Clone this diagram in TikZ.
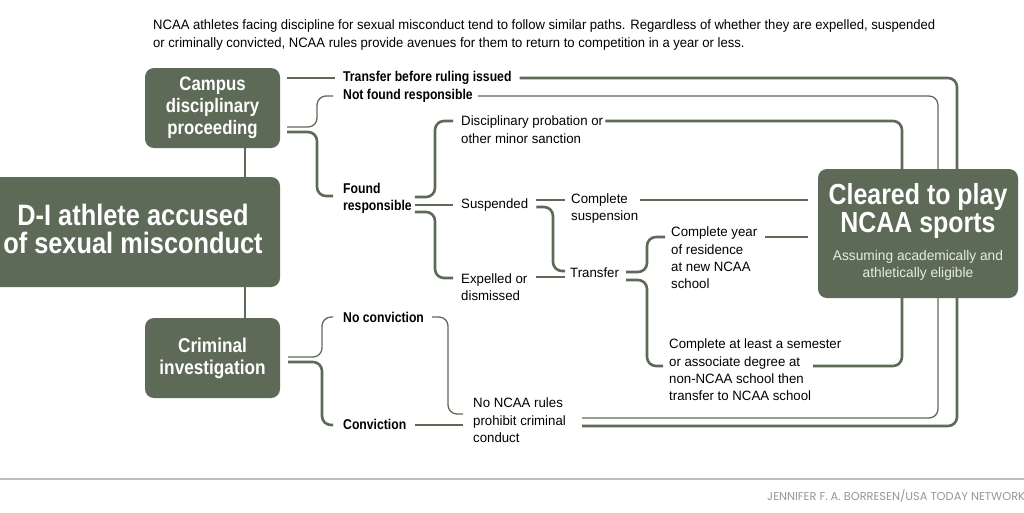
\documentclass[tikz,border=0pt]{standalone}
\usepackage{fontspec}
\setmainfont{Liberation Sans}[FakeStretch=0.98]
\newfontfamily\condfont{Liberation Sans}[FakeStretch=0.86]
\newfontfamily\introfont{Liberation Sans}[FakeStretch=0.96]
\newfontfamily\creditfont{Poppins}
\usetikzlibrary{calc,positioning}
\definecolor{sage}{RGB}{92,106,87}
\definecolor{rulegray}{RGB}{190,190,190}
\definecolor{creditgray}{RGB}{150,150,150}
\definecolor{paleleaf}{RGB}{232,236,229}
\tikzset{
  box/.style={fill=sage, rounded corners=9pt, inner sep=0pt},
  head/.style={text=white, align=center, inner sep=0pt, font=\condfont\bfseries},
  lbl/.style={anchor=west, inner sep=0pt, align=left, font=\fontsize{13.5}{17.4}\selectfont},
  blbl/.style={anchor=west, inner sep=0pt, align=left, font=\condfont\bfseries\fontsize{14.2}{17}\selectfont},
  thk/.style={draw=sage, line width=2.6pt, rounded corners=9pt},
  thn/.style={draw=sage, line width=1.3pt, rounded corners=9pt},
  stem/.style={draw=sage, line width=1.4pt},
}

\begin{document}
\begin{tikzpicture}[x=1pt,y=-1pt]
  \useasboundingbox (0,0) rectangle (1024,512);
  % intro
  \node[anchor=west, inner sep=0pt, align=left, font=\introfont\fontsize{13.6}{18.5}\selectfont] (intro) at (153,35)
    {NCAA athletes facing discipline for sexual misconduct tend to follow similar paths. Regardless of whether they are expelled, suspended\\
     or criminally convicted, NCAA rules provide avenues for them to return to competition in a year or less.};

  % boxes
  \node[box, minimum width=135pt, minimum height=80pt] (campus) at (212.5,108) {};
  \node[head, font=\condfont\bfseries\fontsize{19.5}{22}\selectfont] at (campus.center) {Campus\\disciplinary\\proceeding};
  \node[box, minimum width=300pt, minimum height=110pt] (accused) at (130,232) {};
  \node[head, font=\condfont\bfseries\fontsize{29.5}{28}\selectfont] at (133,229) {D-I athlete accused\\of sexual misconduct};
  \node[box, minimum width=135pt, minimum height=80pt] (crim) at (212.5,358) {};
  \node[head, font=\condfont\bfseries\fontsize{20}{22}\selectfont] at (crim.center) {Criminal\\investigation};
  \node[box, minimum width=200pt, minimum height=129pt] (clear) at (918,233.5) {};
  \node[head, font=\condfont\bfseries\fontsize{29}{26}\selectfont] (cleartitle) at (918,211) {Cleared to play\\NCAA sports};
  \node[head, below=12pt of cleartitle, text=paleleaf, font=\fontsize{14}{16.5}\selectfont] (clearnote) {Assuming academically and\\athletically eligible};

  \draw[stem] (campus.south -| 245,0) -- (accused.north -| 245,0);
  \draw[stem] (accused.south -| 245,0) -- (crim.north -| 245,0);

  % labels
  \node[blbl] (tbr) at (343,78) {Transfer before ruling issued};
  \node[blbl] (nfr) at (343,96) {Not found responsible};
  \node[blbl] (fr) at (343,198.5) {Found\\responsible};
  \node[lbl] (dp) at (461,129.5) {Disciplinary probation or\\other minor sanction};
  \node[lbl] (susp) at (461,205) {Suspended};
  \node[lbl] (exp) at (461,287) {Expelled or\\dismissed};
  \node[lbl] (csus) at (571,208.5) {Complete\\suspension};
  \node[lbl] (trf) at (570,273) {Transfer};
  \node[lbl] (cyr) at (671,258) {Complete year\\of residence\\at new NCAA\\school};
  \node[lbl] (cls) at (669,370) {Complete at least a semester\\or associate degree at\\non-NCAA school then\\transfer to NCAA school};
  \node[blbl] (nconv) at (343,317) {No conviction};
  \node[blbl] (conv) at (343,424) {Conviction};
  \node[lbl] (nrule) at (473,420.5) {No NCAA rules\\prohibit criminal\\conduct};

  \coordinate (clsend) at (813,366);
  \coordinate (nruleend) at (582,0);

  % campus branch
  \draw[thk] ([xshift=7pt]campus.east |- tbr.west) -- ([xshift=-8pt]tbr.west);
  \draw[thk] ([xshift=8pt]tbr.east) -- (957,78) -- ([yshift=-7pt]clear.north -| 957,0);
  \draw[thn] ([xshift=7pt]campus.east |- 0,127) -- (317,127) -- (317,96) -- ([xshift=-10pt]nfr.west);
  \draw[thn] ([xshift=5pt]nfr.east) -- (938,96) -- ([yshift=-7pt]clear.north -| 938,0);
  \draw[thk] ([xshift=7pt]campus.east |- 0,132) -- (317,132) -- (317,196) -- ([xshift=-10pt]fr.west |- 0,196);
  \draw[thk] ([xshift=3pt]fr.east |- 0,197) -- (435,197) -- (435,121) -- ([xshift=-8pt]dp.west |- 0,121);
  \draw[thk] ([xshift=3pt]fr.east |- 0,205) -- ([xshift=-8pt]susp.west);
  \draw[thk] ([xshift=3pt]fr.east |- 0,212) -- (435,212) -- (435,278) -- ([xshift=-8pt]exp.west |- 0,278);
  \draw[thk] ([xshift=2pt]dp.east |- 0,121) -- (902,121) -- ([yshift=-7pt]clear.north -| 902,0);
  \draw[thk] ([xshift=8pt]susp.east |- 0,200) -- ([xshift=-6pt]csus.west |- 0,200);
  \draw[thk] ([xshift=8pt]susp.east |- 0,207) -- (553,207) -- (553,271) -- ([xshift=-5pt]trf.west |- 0,271);
  \draw[thk] ([xshift=8pt]exp.east |- 0,277) -- ([xshift=-5pt]trf.west |- 0,277);
  \draw[thk] ([xshift=2pt]csus.east |- 0,200) -- ([xshift=-10pt]clear.west |- 0,200);
  \draw[thk] ([xshift=7pt]trf.east |- 0,272) -- (647,272) -- (647,237) -- ([xshift=-6pt]cyr.west |- 0,237);
  \draw[thk] ([xshift=7pt]trf.east |- 0,280) -- (647,280) -- (647,366) -- ([xshift=-6pt]cls.west |- 0,366);
  \draw[thk] ([xshift=8pt]cyr.east |- 0,237) -- ([xshift=-10pt]clear.west |- 0,237);
  \draw[thk] (clsend) -- (902,366) -- ([yshift=7pt]clear.south -| 902,0);

  % criminal branch
  \draw[thn] ([xshift=8pt]crim.east |- 0,357) -- (322,357) -- (322,317) -- ([xshift=-10pt]nconv.west);
  \draw[thk] ([xshift=8pt]crim.east |- 0,362) -- (322,362) -- (322,425) -- ([xshift=-10pt]conv.west |- 0,425);
  \draw[thn] ([xshift=8pt]nconv.east) -- (448,317) -- (448,414) -- ([xshift=-10pt]nrule.west |- 0,414);
  \draw[thk] ([xshift=8pt]conv.east |- 0,425) -- ([xshift=-10pt]nrule.west |- 0,425);
  \draw[thn] (nruleend |- 0,418) -- (938,418) -- ([yshift=7pt]clear.south -| 938,0);
  \draw[thk] (nruleend |- 0,426) -- (957,426) -- ([yshift=7pt]clear.south -| 957,0);

  % footer
  \draw[rulegray, line width=1.8pt] (0,479) -- (1024,479);
  \node[anchor=west, inner sep=0pt, text=creditgray, font=\creditfont\fontsize{11.4}{13}\selectfont] (credit) at (767,496) {JENNIFER F. A. BORRESEN/USA TODAY NETWORK};
\end{tikzpicture}
\end{document}
